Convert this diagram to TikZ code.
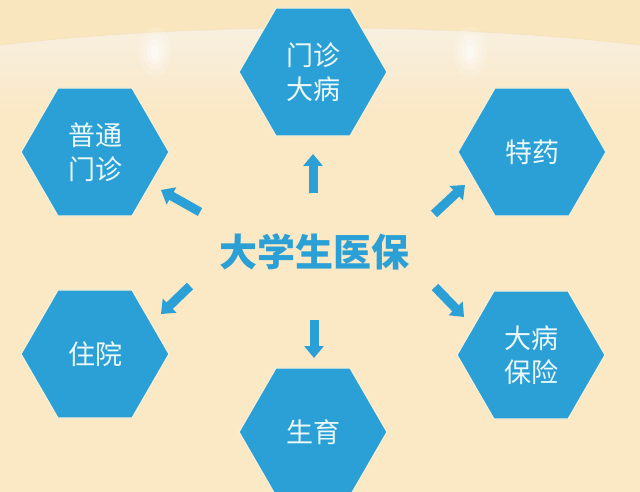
\documentclass[tikz,border=0pt]{standalone}
\usepackage{fontspec}
\newfontfamily\cjk{Noto Sans CJK SC}
\usetikzlibrary{shapes.geometric,arrows.meta}
\definecolor{bgbase}{RGB}{251,232,197}
\definecolor{bgtop}{RGB}{250,230,190}
\definecolor{bandlight}{RGB}{247,240,226}
\definecolor{hexblue}{RGB}{42,160,214}
\definecolor{hextext}{RGB}{236,249,252}
\definecolor{glow}{RGB}{250,240,215}
\tikzset{
  hexnode/.style={regular polygon, regular polygon sides=6,
    minimum size=148pt, inner sep=0pt, fill=hexblue, draw=glow, line width=1.2pt,
    text=hextext, font=\cjk\fontsize{27}{34}\selectfont, align=center},
  bigarrow/.style={draw=hexblue, line width=9pt, -{Triangle[width=19pt,length=12pt]}},
  titletext/.style={text=hexblue, font=\cjk\bfseries\fontsize{38}{40}\selectfont}
}
\begin{document}
\begin{tikzpicture}[x=1pt,y=-1pt]
\useasboundingbox (0,0) rectangle (640,492);
% background
\fill[bgbase] (0,0) rectangle (640,492);
\fill[bgtop] (0,0) rectangle (640,45);
\shade[top color=bandlight, bottom color=bgbase]
  (0,45) .. controls (200,22) and (440,22) .. (640,45) -- (640,115) -- (0,115) -- cycle;
\draw[line width=1pt, color=bgtop!85!brown, opacity=0.35]
  (0,45) .. controls (200,22) and (440,22) .. (640,45);
\foreach \cx in {155,470}{
  \foreach \r/\o in {18/0.15,13/0.2,9/0.3,5/0.4}{
    \fill[white, opacity=\o] (\cx,52) ellipse ({\r*0.9} and {\r*1.4});
  }
}
% hexagons
\node[hexnode] (mzdb) at (313,72) {门诊\\大病};
\node[hexnode] (ptmz) at (95,152) {普通\\门诊};
\node[hexnode] (ty) at (532,152) {特药};
\node[hexnode] (zy) at (95,354) {住院};
\node[hexnode] (dbbx) at (531,355) {大病\\保险};
\node[hexnode] (sy) at (313,432) {生育};
% centre
\node[titletext] (center) at (314,252) {大学生医保};
% arrow coordinates
\coordinate (upA) at (313,193); \coordinate (upB) at (313,154);
\coordinate (dnA) at (314,320); \coordinate (dnB) at (314,358);
\coordinate (luA) at (200,212); \coordinate (luB) at (161,190);
\coordinate (ruA) at (434,214); \coordinate (ruB) at (465,185);
\coordinate (ldA) at (190,286); \coordinate (ldB) at (161,314);
\coordinate (rdA) at (435,287); \coordinate (rdB) at (464,317);
\draw[bigarrow] (upA) -- (upB);
\draw[bigarrow] (dnA) -- (dnB);
\draw[bigarrow] (luA) -- (luB);
\draw[bigarrow] (ruA) -- (ruB);
\draw[bigarrow] (ldA) -- (ldB);
\draw[bigarrow] (rdA) -- (rdB);
\end{tikzpicture}
\end{document}
